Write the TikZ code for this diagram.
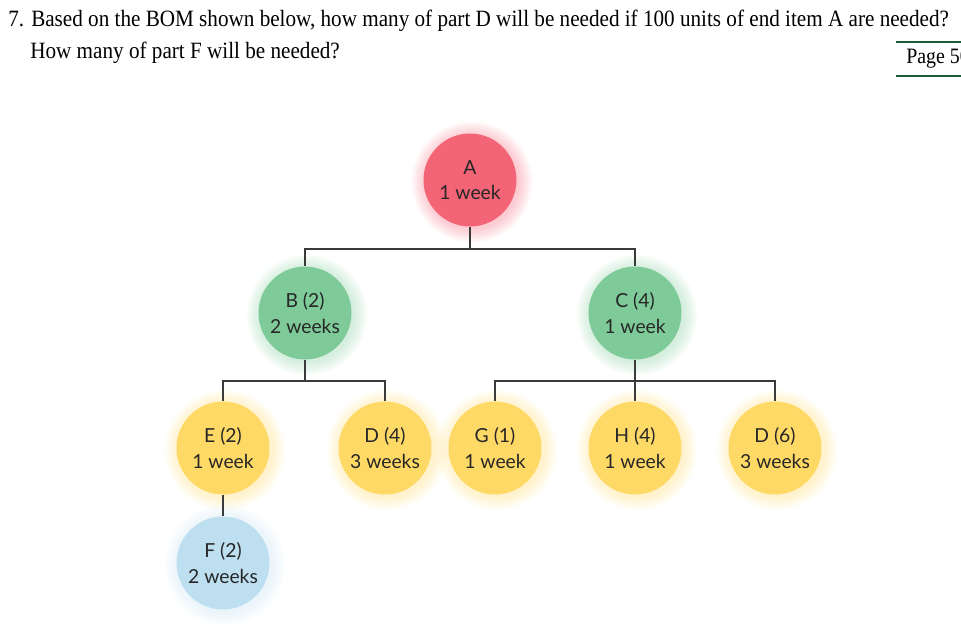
\documentclass[tikz,border=0pt]{standalone}
\usepackage{fontspec}
\setmainfont{Liberation Serif}
\newfontfamily\partfont{Lato}
\definecolor{itemred}{HTML}{F26476}
\definecolor{itemgreen}{HTML}{7ECB99}
\definecolor{itemyellow}{HTML}{FFD966}
\definecolor{itemblue}{HTML}{BEDFF0}
\definecolor{linkgray}{HTML}{3A3A3A}
\definecolor{pagegreen}{HTML}{1E5A3A}

\tikzset{
  part/.style={circle, minimum size=1.86cm, inner sep=0pt, align=center,
    font=\partfont\fontsize{11}{14.5}\selectfont, text=black!85},
  link/.style={draw=linkgray, line width=0.6pt},
  asktext/.style={anchor=base west, inner sep=0pt, font=\fontsize{13.3}{16}\selectfont},
}
% soft halo behind a circle
\newcommand{\halo}[2]{%
  \foreach \g in {1,...,9} {\fill[#2, opacity=0.045] ($(#1)+(2,2)$) circle ({46+1.6*\g});}%
}
% narrow the question text
\newcommand{\narrow}[1]{\scalebox{0.905}[1]{#1}}

\usetikzlibrary{calc}

\begin{document}
\begin{tikzpicture}[x=0.02cm, y=-0.02cm]
    \useasboundingbox (0,0) rectangle (961,627);
    \clip (0,0) rectangle (961,627);

    % question text
    \node[asktext] (q1) at (8,26)
      {\narrow{7. Based on the BOM shown below, how many of part D will be needed if 100 units of end item A are needed?}};
    \node[asktext] (q2) at (30,58)
      {\narrow{How many of part F will be needed?}};
    \node[asktext, font=\fontsize{12.5}{14}\selectfont] (pg) at (906,63) {\narrow{Page 50}};
    \draw[pagegreen, line width=1.6pt] (896,42) -- (961,42);
    \draw[pagegreen, line width=1.6pt] (896,76) -- (961,76);

    % halos
    \halo{470,180}{itemred}
    \halo{305,313}{itemgreen}
    \halo{635,313}{itemgreen}
    \halo{223,448}{itemyellow}
    \halo{385,448}{itemyellow}
    \halo{495,448}{itemyellow}
    \halo{635,448}{itemyellow}
    \halo{775,448}{itemyellow}
    \halo{223,563}{itemblue}

    % items
    \node[part, fill=itemred] (A) at (470,180) {A\\1 week};
    \node[part, fill=itemgreen] (B) at (305,313) {B (2)\\2 weeks};
    \node[part, fill=itemgreen] (C) at (635,313) {C (4)\\1 week};
    \node[part, fill=itemyellow] (E) at (223,448) {E (2)\\1 week};
    \node[part, fill=itemyellow] (D4) at (385,448) {D (4)\\3 weeks};
    \node[part, fill=itemyellow] (G) at (495,448) {G (1)\\1 week};
    \node[part, fill=itemyellow] (H) at (635,448) {H (4)\\1 week};
    \node[part, fill=itemyellow] (D6) at (775,448) {D (6)\\3 weeks};
    \node[part, fill=itemblue] (F) at (223,563) {F (2)\\2 weeks};

    % structure lines
    \coordinate (ak) at (470,249);
    \coordinate (bk) at (305,381);
    \coordinate (ck) at (635,381);
    \draw[link] (A.south) -- (ak);
    \draw[link] (B.north) |- (ak) -| (C.north);
    \draw[link] (B.south) -- (bk);
    \draw[link] (E.north) |- (bk) -| (D4.north);
    \draw[link] (C.south) -- (H.north);
    \draw[link] (G.north) |- (ck) -| (D6.north);
    \draw[link] (E.south) -- (F.north);
\end{tikzpicture}
\end{document}
